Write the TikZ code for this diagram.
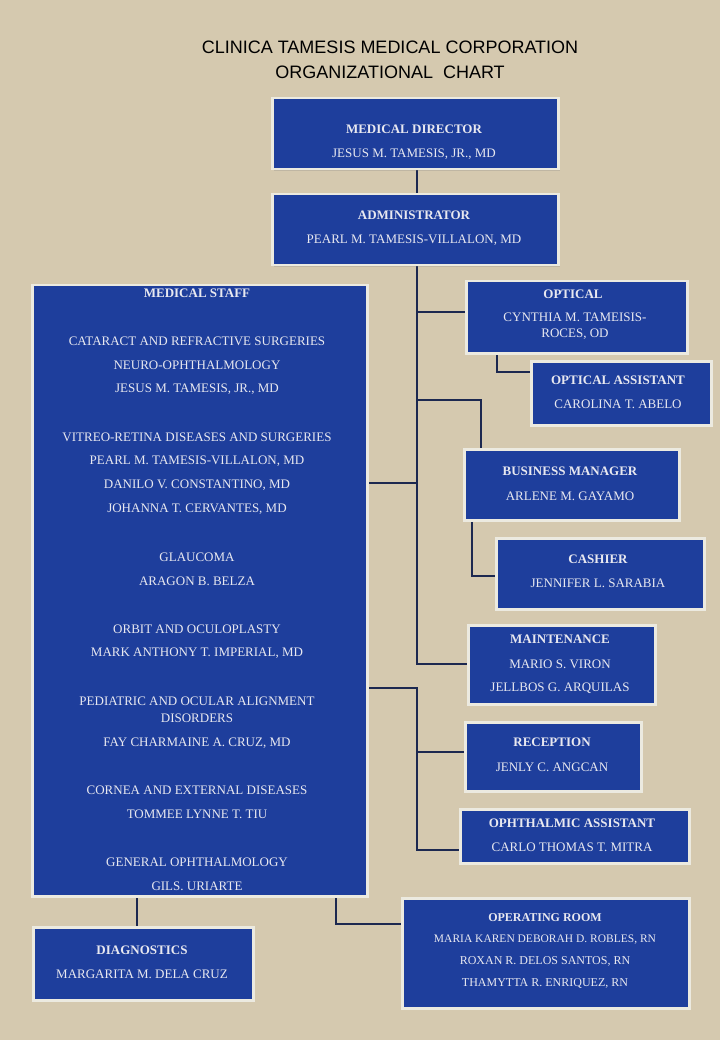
\documentclass[tikz,border=0pt]{standalone}
\usepackage{fontspec}
\setmainfont{Liberation Serif}
\newfontfamily\titlefont{Liberation Sans}
\usetikzlibrary{shadows}
\definecolor{bg}{HTML}{D5C9AF}
\definecolor{boxblue}{HTML}{1E3E9C}
\definecolor{boxedge}{HTML}{ECEAE0}
\definecolor{txt}{HTML}{E8E8F0}
\definecolor{ln}{HTML}{1C2850}
\tikzset{
 box/.style={draw=boxedge,line width=2.5pt,fill=boxblue,drop shadow={opacity=0.25,shadow xshift=2pt,shadow yshift=-2pt}},
 hd/.style={text=txt,font=\fontsize{13}{15}\selectfont\bfseries},
 nm/.style={text=txt,font=\fontsize{13}{15}\selectfont},
 conn/.style={draw=ln,line width=1.2pt},
 trunk/.style={draw=ln,line width=2.6pt}
}
\newcommand{\bx}[5]{% name, x1,y1,x2,y2 in px
 \path[box] (#2pt,-#3pt) rectangle (#4pt,-#5pt);
 \coordinate (#1nw) at (#2pt,-#3pt);
 \coordinate (#1se) at (#4pt,-#5pt);
}
\begin{document}
\begin{tikzpicture}[x=1pt,y=1pt]
\fill[bg] (0,0) rectangle (720,-1040);
\useasboundingbox (0,0) rectangle (720,-1040);
\node[font=\titlefont\fontsize{18}{20}\selectfont] (t1) at (390,-47) {CLINICA TAMESIS MEDICAL CORPORATION};
\node[font=\titlefont\fontsize{18}{20}\selectfont] (t2) at (390,-72) {ORGANIZATIONAL\ \ CHART};

% connectors first
\coordinate (j1) at (417,-483);
\coordinate (j2) at (417,-664);
\coordinate (jo) at (417,-312);
\coordinate (jb) at (417,-400);
\coordinate (jbb) at (481,-400);
\coordinate (joa1) at (497,-352);
\coordinate (joa2) at (497,-372);
\coordinate (jc1) at (472,-519);
\coordinate (jc2) at (472,-576);
\coordinate (jr0) at (366,-688);
\coordinate (jr1) at (417,-688);
\coordinate (jr2) at (417,-752);
\coordinate (jr3) at (417,-850);
\coordinate (jor1) at (336,-895);
\coordinate (jor2) at (336,-924);
\coordinate (jd1) at (137,-895);
\coordinate (jd2) at (137,-926);
\path[trunk] (417,-168) -- (j1) -- (366,-483);
\path[conn] (j1) -- (j2) -- (467,-664);
\path[conn] (jo) -- (465,-312);
\path[conn] (jb) -- (jbb) -- (481,-448);
\path[conn] (joa1) -- (joa2) -- (530,-372);
\path[conn] (jc1) -- (jc2) -- (495,-576);
\path[conn] (jr0) -- (jr1) -- (jr3) -- (459,-850);
\path[conn] (jr2) -- (464,-752);
\path[conn] (jor1) -- (jor2) -- (401,-924);
\path[conn] (jd1) -- (jd2);

% boxes
\node[box,minimum width=286,minimum height=71,anchor=north west] (dir) at (271,-97) {};
\node[hd] (dirh) at (414,-129) {MEDICAL DIRECTOR};
\node[nm] (dirn) at (414,-154) {JESUS M. TAMESIS, JR., MD};

\node[box,minimum width=286,minimum height=71,anchor=north west] (adm) at (271,-193) {};
\node[hd] (admh) at (414,-215) {ADMINISTRATOR};
\node[nm] (admn) at (414,-240) {PEARL M. TAMESIS-VILLALON, MD};

\node[box,minimum width=335,minimum height=611,anchor=north west] (staff) at (31,-284) {};
\node[hd] (sh) at (197,-293) {MEDICAL STAFF};
\foreach \y/\t [count=\i] in {341/CATARACT AND REFRACTIVE SURGERIES,365/NEURO-OPHTHALMOLOGY,389/{JESUS M. TAMESIS, JR., MD},437/VITREO-RETINA DISEASES AND SURGERIES,461/{PEARL M. TAMESIS-VILLALON, MD},485/{DANILO V. CONSTANTINO, MD},509/{JOHANNA T. CERVANTES, MD},557/GLAUCOMA,581/ARAGON B. BELZA,629/ORBIT AND OCULOPLASTY,653/{MARK ANTHONY T. IMPERIAL, MD},701/PEDIATRIC AND OCULAR ALIGNMENT,718/DISORDERS,743/{FAY CHARMAINE A. CRUZ, MD},790/CORNEA AND EXTERNAL DISEASES,814/TOMMEE LYNNE T. TIU,862/GENERAL OPHTHALMOLOGY,886/GILS. URIARTE}
  \node[nm] (s\i) at (197,-\y) {\t};

\node[box,minimum width=221,minimum height=72,anchor=north west] (opt) at (465,-280) {};
\node[hd] (opth) at (573,-294) {OPTICAL};
\node[nm,align=center,font=\fontsize{13}{16}\selectfont] (optn) at (575,-326) {CYNTHIA M. TAMEISIS-\\ROCES, OD};

\node[box,minimum width=180,minimum height=64,anchor=north west] (oa) at (530,-360) {};
\node[hd] (oah) at (618,-380) {OPTICAL ASSISTANT};
\node[nm] (oan) at (618,-404) {CAROLINA T. ABELO};

\node[box,minimum width=215,minimum height=71,anchor=north west] (bm) at (463,-448) {};
\node[hd] (bmh) at (570,-471) {BUSINESS MANAGER};
\node[nm] (bmn) at (570,-496) {ARLENE M. GAYAMO};

\node[box,minimum width=208,minimum height=71,anchor=north west] (cs) at (495,-537) {};
\node[hd] (csh) at (598,-559) {CASHIER};
\node[nm] (csn) at (598,-583) {JENNIFER L. SARABIA};

\node[box,minimum width=187,minimum height=79,anchor=north west] (mt) at (467,-624) {};
\node[hd] (mth) at (560,-639) {MAINTENANCE};
\node[nm] (mtn1) at (560,-664) {MARIO S. VIRON};
\node[nm] (mtn2) at (560,-688) {JELLBOS G. ARQUILAS};

\node[box,minimum width=176,minimum height=69,anchor=north west] (rc) at (464,-721) {};
\node[hd] (rch) at (552,-742) {RECEPTION};
\node[nm] (rcn) at (552,-767) {JENLY C. ANGCAN};

\node[box,minimum width=229,minimum height=54,anchor=north west] (oph) at (459,-808) {};
\node[hd] (ophh) at (572,-823) {OPHTHALMIC ASSISTANT};
\node[nm] (ophn) at (572,-847) {CARLO THOMAS T. MITRA};

\node[box,minimum width=287,minimum height=110,anchor=north west] (or) at (401,-897) {};
\node[hd,font=\fontsize{12}{14}\selectfont\bfseries] (orh) at (545,-918) {OPERATING ROOM};
\node[nm,font=\fontsize{11.5}{14}\selectfont] (orn1) at (545,-940) {MARIA KAREN DEBORAH D. ROBLES, RN};
\node[nm,font=\fontsize{12}{14}\selectfont] (orn2) at (545,-961) {ROXAN R. DELOS SANTOS, RN};
\node[nm,font=\fontsize{12}{14}\selectfont] (orn3) at (545,-983) {THAMYTTA R. ENRIQUEZ, RN};

\node[box,minimum width=220,minimum height=73,anchor=north west] (dg) at (32,-926) {};
\node[hd] (dgh) at (142,-950) {DIAGNOSTICS};
\node[nm] (dgn) at (142,-974) {MARGARITA M. DELA CRUZ};
\end{tikzpicture}
\end{document}
